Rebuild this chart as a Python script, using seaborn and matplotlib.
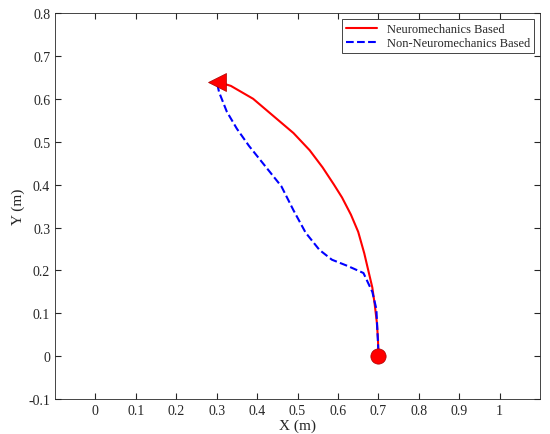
import matplotlib
matplotlib.use("Agg")
import matplotlib.pyplot as plt
import seaborn as sns
import pandas as pd

# Trayectorias
neuro_x = [0.70, 0.699, 0.696, 0.691, 0.685, 0.675, 0.665, 0.65, 0.632, 0.61, 0.59, 0.562, 0.53, 0.49, 0.44, 0.39, 0.335, 0.30]
neuro_y = [0.0, 0.04, 0.08, 0.12, 0.16, 0.20, 0.24, 0.29, 0.33, 0.37, 0.40, 0.44, 0.48, 0.52, 0.56, 0.60, 0.63, 0.64]
non_x = [0.70, 0.70, 0.695, 0.685, 0.663, 0.625, 0.585, 0.554, 0.52, 0.49, 0.46, 0.42, 0.38, 0.35, 0.325, 0.306, 0.30]
non_y = [0.0, 0.02, 0.11, 0.15, 0.194, 0.21, 0.225, 0.248, 0.288, 0.34, 0.396, 0.443, 0.49, 0.53, 0.57, 0.615, 0.64]

sns.set_style("white")
plt.rcParams["font.family"] = ["Liberation Serif", "DejaVu Serif"]

df1 = pd.DataFrame({"x": neuro_x, "y": neuro_y})
df2 = pd.DataFrame({"x": non_x, "y": non_y})

fig, ax = plt.subplots(figsize=(5.5, 4.35), dpi=100)
sns.lineplot(data=df1, x="x", y="y", sort=False, color="red", lw=1.5, ax=ax,
             label="Neuromechanics Based", solid_joinstyle="round")
sns.lineplot(data=df2, x="x", y="y", sort=False, color="blue", lw=1.5, ls="--", ax=ax,
             label="Non-Neuromechanics Based")
ax.plot(neuro_x[0], neuro_y[0], "o", color="red", ms=11, mec="#aa0000", mew=0.5)
ax.plot(neuro_x[-1], neuro_y[-1], "<", color="red", ms=13, mec="#aa0000", mew=0.5)

ax.set_xlim(-0.1, 1.1)
ax.set_ylim(-0.1, 0.8)
ax.set_xticks([0, 0.1, 0.2, 0.3, 0.4, 0.5, 0.6, 0.7, 0.8, 0.9, 1])
ax.set_xticklabels(["0", "0.1", "0.2", "0.3", "0.4", "0.5", "0.6", "0.7", "0.8", "0.9", "1"])
ax.set_yticks([-0.1, 0, 0.1, 0.2, 0.3, 0.4, 0.5, 0.6, 0.7, 0.8])
ax.set_yticklabels(["-0.1", "0", "0.1", "0.2", "0.3", "0.4", "0.5", "0.6", "0.7", "0.8"])
ax.tick_params(direction="in", length=4, labelsize=10, top=True, right=True, bottom=True, left=True)
for s in ax.spines.values():
    s.set_color("#262626")
    s.set_linewidth(0.6)
ax.set_xlabel("X (m)", fontsize=11, labelpad=1)
ax.set_ylabel("Y (m)", fontsize=11, labelpad=2)
leg = ax.legend(loc="upper right", fontsize=9, frameon=True, fancybox=False, framealpha=1,
                edgecolor="#262626", borderpad=0.3, labelspacing=0.2, handlelength=2.5)
leg.get_frame().set_linewidth(0.6)

plt.subplots_adjust(left=0.1, right=0.982, top=0.968, bottom=0.08)
plt.savefig("out.png")
